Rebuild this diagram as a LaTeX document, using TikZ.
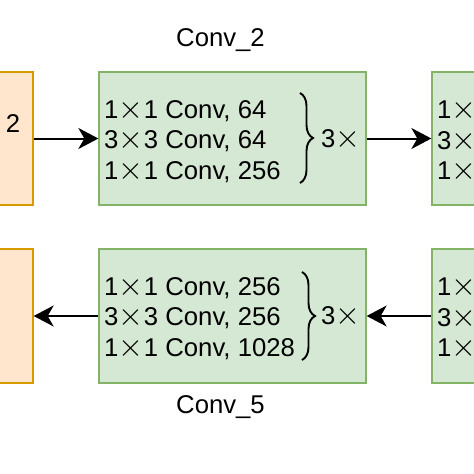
\RequirePackage{fix-cm}
\documentclass[tikz,border=0pt]{standalone}
\usepackage{fontspec}
\setmainfont{Liberation Sans}
\usetikzlibrary{arrows.meta,decorations.pathreplacing}
\definecolor{gfill}{HTML}{D5E8D4}
\definecolor{gline}{HTML}{82B366}
\definecolor{ofill}{HTML}{FFE6CC}
\definecolor{oline}{HTML}{D79B00}
\newcommand\mytimes{\kern0.3pt{\fontsize{32pt}{30.5pt}\selectfont$\times$}\kern0.3pt}
\tikzset{
  gbox/.style={draw=gline, fill=gfill, line width=1.3pt, inner sep=0pt},
  obox/.style={draw=oline, fill=ofill, line width=1.3pt, inner sep=0pt},
  txt/.style={font=\fontsize{25.7pt}{30.5pt}\selectfont, align=left, inner sep=0pt, anchor=west},
  ttl/.style={font=\fontsize{25.7pt}{30.5pt}\selectfont, inner sep=0pt},
  arr/.style={line width=2pt, -{Stealth[length=20pt,width=21pt,inset=6pt]}},
  brc/.style={line width=1.9pt, decorate, decoration={brace, amplitude=13pt, aspect=0.5}}
}
\begin{document}
\begin{tikzpicture}[x=1pt,y=-1pt]
\clip (0,0) rectangle (474,474);
\fill[white] (0,0) rectangle (474,474);
% top row
\node[obox, minimum width=93pt, minimum height=133pt] (o1) at (-13.5,138.5) {};
\node[gbox, minimum width=267pt, minimum height=133pt] (c2) at (232.5,138.5) {};
\node[gbox, minimum width=128pt, minimum height=133pt] (r1) at (496,138.5) {};
\node[ttl] (n2) at (13,124) {2};
\node[ttl] (t2) at (220.5,40) {Conv\_2};
\node[txt] (l2) at (104,141) {1\mytimes1 Conv, 64\\3\mytimes3 Conv, 64\\1\mytimes1 Conv, 256};
\draw[brc] (300,93) -- (300,183);
\node[txt] (m2) at (321,139) {3\mytimes};
\node[txt] (lr1) at (437,141) {1\mytimes\\3\mytimes\\1\mytimes};
\draw[arr] (o1.east) -- (c2.west);
\draw[arr] (c2.east) -- (r1.west);
% bottom row
\node[obox, minimum width=93pt, minimum height=134pt] (o2) at (-13.5,316) {};
\node[gbox, minimum width=267pt, minimum height=134pt] (c5) at (232.5,316) {};
\node[gbox, minimum width=128pt, minimum height=134pt] (r2) at (496,316) {};
\node[ttl] (t5) at (220.5,407) {Conv\_5};
\node[txt] (l5) at (104,318) {1\mytimes1 Conv, 256\\3\mytimes3 Conv, 256\\1\mytimes1 Conv, 1028};
\draw[brc] (302,272) -- (302,360);
\node[txt] (m5) at (321,316) {3\mytimes};
\node[txt] (lr2) at (437,318) {1\mytimes\\3\mytimes\\1\mytimes};
\draw[arr] (c5.west) -- (o2.east);
\draw[arr] (r2.west) -- (c5.east);
\end{tikzpicture}
\end{document}
